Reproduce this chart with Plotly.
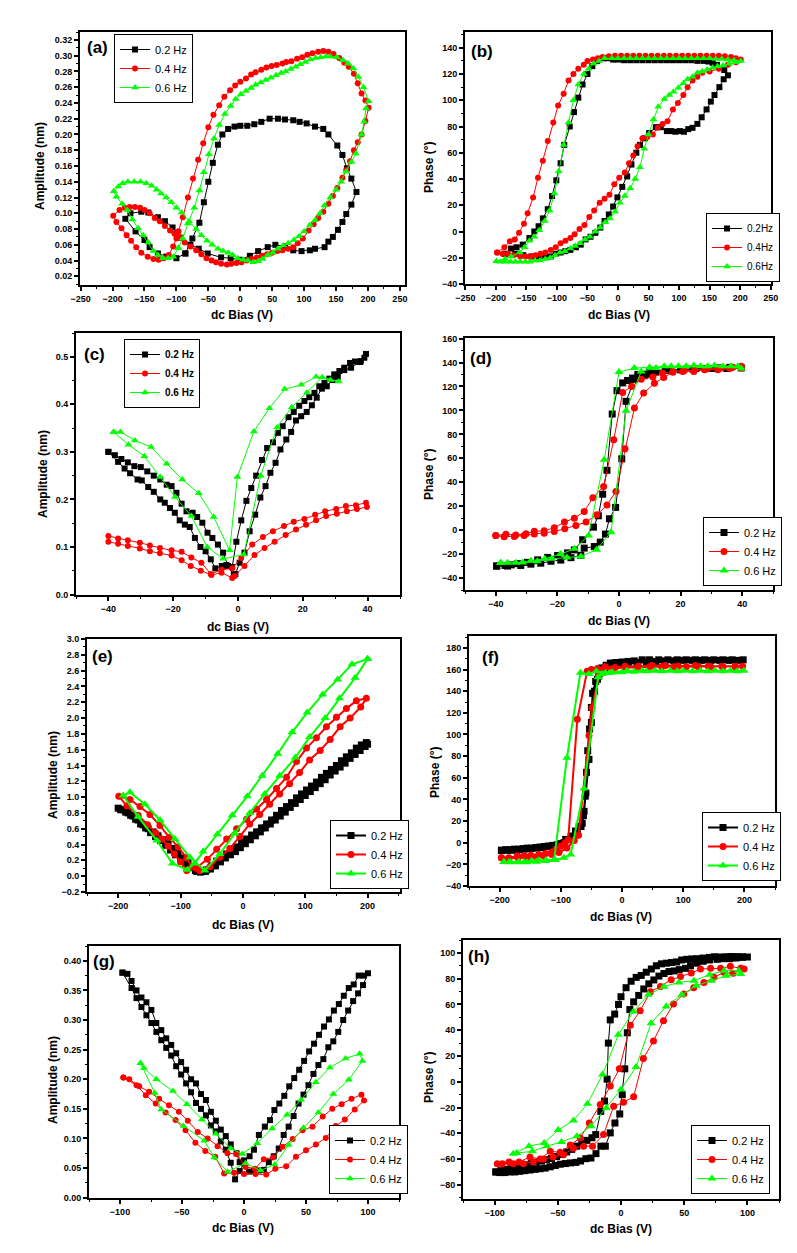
import plotly.graph_objects as go

# ---------------- (a) amplitude, +/-200 V ----------------
a02_x = [-86, -75, -64, -57, -50, -43, -35, -28, -19, -9, 0, 11, 22, 33, 46, 59, 70, 83, 93, 104,
         117, 130, 138, 152, 160, 167, 174, 182, 174, 166, 160, 153, 145, 138, 132, 117, 109, 96, 83, 70,
         55, 43, 28, 15, 0, -15, -30, -51, -65, -78, -93, -106, -118, -129, -144, -155, -172, -180, -164, -150,
         -142, -129, -116, -100, -86]
a02_y = [0.049, 0.068, 0.088, 0.114, 0.140, 0.164, 0.187, 0.200, 0.207, 0.210, 0.211, 0.211, 0.213, 0.216, 0.220, 0.220, 0.219, 0.218, 0.216, 0.214,
         0.210, 0.207, 0.200, 0.186, 0.174, 0.157, 0.144, 0.127, 0.111, 0.099, 0.089, 0.079, 0.070, 0.064, 0.057, 0.055, 0.053, 0.052, 0.053, 0.058,
         0.060, 0.057, 0.052, 0.046, 0.041, 0.043, 0.044, 0.049, 0.055, 0.060, 0.069, 0.082, 0.090, 0.095, 0.101, 0.102, 0.100, 0.093, 0.077, 0.066,
         0.057, 0.049, 0.045, 0.043, 0.049]
a04_x = [-97, -90, -82, -74, -66, -58, -50, -42, -33, -25, -16, -8, 0, 9, 17, 24, 33, 41, 49, 57,
         66, 72, 80, 89, 97, 105, 113, 122, 130, 138, 146, 155, 163, 170, 178, 184, 190, 196, 201, 196,
         190, 184, 178, 172, 166, 160, 152, 145, 138, 130, 122, 115, 107, 98, 90, 83, 75, 66, 58, 50,
         42, 34, 26, 18, 10, 2, -6, -14, -21, -30, -38, -45, -53, -61, -69, -78, -87, -95, -103, -110,
         -118, -126, -134, -142, -150, -157, -165, -173, -181, -189, -199, -194, -186, -178, -171, -163, -155, -145, -136, -128,
         -120, -112, -105, -100, -97]
a04_y = [0.077, 0.095, 0.120, 0.144, 0.168, 0.189, 0.209, 0.225, 0.237, 0.248, 0.256, 0.262, 0.267, 0.271, 0.276, 0.279, 0.282, 0.285, 0.287, 0.288,
         0.290, 0.292, 0.293, 0.296, 0.298, 0.301, 0.303, 0.305, 0.306, 0.305, 0.302, 0.297, 0.291, 0.286, 0.277, 0.265, 0.252, 0.243, 0.234, 0.217,
         0.200, 0.190, 0.180, 0.166, 0.155, 0.145, 0.132, 0.122, 0.112, 0.102, 0.094, 0.086, 0.078, 0.068, 0.062, 0.057, 0.055, 0.053, 0.052, 0.050,
         0.048, 0.046, 0.044, 0.042, 0.040, 0.038, 0.037, 0.036, 0.035, 0.036, 0.038, 0.040, 0.043, 0.048, 0.053, 0.058, 0.063, 0.070, 0.074, 0.078,
         0.084, 0.090, 0.094, 0.100, 0.104, 0.107, 0.108, 0.108, 0.107, 0.104, 0.097, 0.089, 0.081, 0.072, 0.065, 0.057, 0.050, 0.045, 0.042, 0.041,
         0.043, 0.047, 0.058, 0.068, 0.077]
a06_x = [-97, -90, -82, -72, -64, -57, -49, -41, -33, -24, -15, -7, 1, 9, 17, 24, 32, 40, 48, 56,
         64, 71, 79, 87, 94, 102, 110, 118, 126, 134, 141, 151, 161, 169, 177, 185, 193, 201, 197, 194,
         190, 181, 174, 166, 158, 150, 141, 132, 125, 117, 109, 100, 92, 84, 75, 67, 59, 51, 43, 35,
         28, 20, 12, 4, -4, -12, -19, -27, -35, -44, -52, -61, -69, -80, -92, -100, -108, -116, -124, -131,
         -139, -147, -156, -166, -176, -184, -191, -198, -194, -185, -177, -169, -160, -152, -144, -136, -129, -121, -113, -105,
         -97]
a06_y = [0.056, 0.068, 0.087, 0.107, 0.129, 0.152, 0.175, 0.195, 0.212, 0.226, 0.236, 0.245, 0.251, 0.255, 0.259, 0.263, 0.266, 0.269, 0.272, 0.275,
         0.278, 0.280, 0.283, 0.286, 0.289, 0.292, 0.295, 0.297, 0.298, 0.299, 0.299, 0.298, 0.294, 0.290, 0.284, 0.273, 0.260, 0.242, 0.233, 0.216,
         0.200, 0.176, 0.165, 0.153, 0.140, 0.130, 0.120, 0.110, 0.100, 0.091, 0.085, 0.077, 0.071, 0.066, 0.062, 0.059, 0.055, 0.050, 0.047, 0.042,
         0.039, 0.038, 0.040, 0.041, 0.043, 0.047, 0.050, 0.052, 0.055, 0.060, 0.065, 0.072, 0.080, 0.090, 0.101, 0.107, 0.114, 0.120, 0.125, 0.130,
         0.135, 0.138, 0.140, 0.140, 0.140, 0.138, 0.134, 0.128, 0.121, 0.112, 0.104, 0.092, 0.081, 0.072, 0.063, 0.052, 0.047, 0.043, 0.043, 0.045,
         0.056]

# ---------------- (b) phase, +/-200 V ----------------
b02_x = [-185, -175, -166, -156, -145, -137, -130, -123, -115, -108, -101, -94, -88, -79, -72, -65, -58, -50, -42, -34,
         -25, -17, -8, 0, 10, 20, 30, 40, 50, 60, 70, 80, 90, 100, 110, 120, 130, 140, 148, 155,
         162, 174, 180, 173, 166, 158, 152, 145, 137, 130, 122, 115, 108, 101, 94, 87, 80, 70, 62, 51,
         44, 36, 30, 22, 15, 7, -1, -8, -15, -22, -29, -37, -45, -53, -61, -69, -78, -86, -94, -102,
         -110, -119, -130, -142, -155, -168, -185]
b02_y = [-17, -13, -12, -10, -5, 0, 4, 10, 17, 27, 39, 52, 66, 80, 91, 102, 112, 120, 126, 130,
         132, 132, 131, 131, 130.5, 130.5, 130.5, 130.5, 130.5, 130.5, 130.5, 130.5, 130.5, 130.5, 130.5, 130.5, 130, 130, 129.5, 128.5,
         127, 123, 119, 116, 110, 104, 99, 93, 87, 82, 79, 78, 76, 76.5, 76, 76.5, 76.5, 79.5, 79.5, 75,
         71, 66, 60, 51, 42, 34, 26, 19, 13, 8, 3, -1, -4, -6, -10, -12, -14, -15, -16, -17,
         -19, -19, -19, -19, -18, -17, -17]
b04_x = [-198, -186, -177, -169, -162, -154, -148, -139, -131, -123, -115, -106, -98, -89, -81, -73, -65, -56, -50, -41,
         -33, -25, -15, -5, 5, 15, 25, 35, 45, 55, 65, 75, 85, 95, 105, 115, 125, 135, 145, 155,
         165, 175, 185, 193, 201, 193, 180, 165, 150, 138, 130, 122, 114, 107, 98, 90, 81, 73, 65, 57,
         48, 40, 32, 25, 18, 11, 2, -6, -14, -22, -30, -39, -47, -55, -63, -71, -78, -86, -94, -102,
         -110, -119, -127, -135, -143, -151, -160, -171, -180, -189, -198]
b04_y = [-16, -12, -7.5, -6, -1, 6, 14, 26, 41, 54, 69, 83, 96, 105, 115, 120, 124, 127, 130, 131,
         132, 133, 133.5, 134, 134, 134, 134, 134, 134, 134, 134, 134, 134, 134, 134, 134, 134, 134, 134, 134,
         134, 133.5, 133, 132, 131, 129, 127, 124, 122, 121, 118, 115, 110, 104, 98, 93, 84, 82, 79, 74,
         72, 71, 65, 58, 52, 45, 41, 36, 28, 25, 22, 16, 11, 5, 2, -2, -5, -7, -9, -12,
         -14, -16, -17, -18, -19, -19, -19, -18, -17, -17, -16]
b06_x = [-199, -185, -175, -161, -153, -145, -137, -129, -120, -112, -104, -97, -89, -81, -73, -65, -56, -48, -40, -31,
         -22, -10, 0, 10, 20, 30, 40, 50, 60, 70, 80, 90, 100, 110, 120, 130, 140, 150, 160, 170,
         180, 190, 201, 193, 182, 172, 163, 155, 146, 138, 130, 122, 114, 107, 99, 91, 84, 76, 66, 58,
         50, 43, 36, 28, 20, 11, 3, -5, -13, -21, -29, -37, -46, -54, -62, -70, -78, -87, -95, -103,
         -111, -119, -128, -136, -144, -152, -160, -168, -176, -185, -193, -199]
b06_y = [-22.6, -21, -19, -16, -12, -7, -4, 1, 8, 16, 29, 46, 66, 83, 100, 112, 120, 124, 128, 130,
         132, 132, 132, 132, 132, 132, 132, 132, 132, 132, 132, 132, 132, 132, 132, 132, 132, 132, 131.5, 131.5,
         131, 130.5, 130, 129, 127.8, 126.5, 126, 124.7, 123.5, 122, 121, 118, 116, 113, 109.5, 106.5, 104, 101, 95, 85.3,
         74, 63, 49, 40, 33, 27, 22, 15, 10, 7, 3, 0, -4, -6, -9, -11, -13, -15, -16, -18,
         -20, -21, -22, -22, -23, -23, -23, -23, -23, -23, -23, -22.6]

# ---------------- (c) amplitude, +/-40 V ----------------
c02_x = [-40, -38, -36, -34, -32, -30, -28, -26, -24, -22, -20.5, -19, -17.4, -15.9, -14, -12.6, -11, -9.4, -7.9, -6.2,
         -4.6, -3.1, -1.8, -0.5, 1, 2.6, 4.1, 5.6, 7.4, 9, 10.8, 12.3, 13.8, 15.6, 17.2, 18.9, 20.5, 22, 23.6, 25.1,
         26.7, 28.2, 29.7, 31.3, 32.8, 34.6, 36.1, 37.7, 39, 39.5, 37.9, 34.9, 32.8, 30.8, 29.2, 27.4, 25.9, 24.3, 22.8, 21.2,
         19.5, 17.9, 16.4, 14.9, 13.1, 11.6, 10, 8.5, 6.9, 5.3, 3.6, 2, 0.5, -0.8, -1.3, -3.6, -5, -7, -8.4, -10,
         -11.6, -13.3, -14.9, -16.4, -18, -19.5, -21, -22.6, -24, -26, -27.7, -29.7, -31, -33.3, -35, -37, -40]
c02_y = [0.300, 0.293, 0.285, 0.278, 0.270, 0.268, 0.259, 0.250, 0.242, 0.231, 0.228, 0.214, 0.191, 0.175, 0.172, 0.163, 0.151, 0.130, 0.119, 0.105,
         0.088, 0.060, 0.058, 0.111, 0.156, 0.197, 0.224, 0.250, 0.283, 0.308, 0.320, 0.340, 0.354, 0.373, 0.384, 0.397, 0.407, 0.415, 0.424, 0.438,
         0.445, 0.454, 0.463, 0.470, 0.477, 0.487, 0.490, 0.489, 0.498, 0.506, 0.491, 0.477, 0.472, 0.458, 0.451, 0.438, 0.433, 0.414, 0.398, 0.384,
         0.375, 0.366, 0.342, 0.326, 0.305, 0.277, 0.256, 0.228, 0.204, 0.168, 0.133, 0.088, 0.067, 0.043, 0.042, 0.062, 0.060, 0.055, 0.074, 0.091,
         0.100, 0.119, 0.142, 0.147, 0.156, 0.172, 0.182, 0.193, 0.200, 0.216, 0.226, 0.240, 0.242, 0.255, 0.265, 0.279, 0.300]
c04_x = [-40, -37, -34, -30.3, -27.2, -24.1, -20.5, -17.4, -14.4, -11.3, -8.4, -5.1, -1.8, 1, 4.4, 7.7, 10.8, 14.2, 17.2, 20.5,
         23.8, 26.9, 30.3, 33.3, 36.4, 39.5, 39.8, 36.7, 33.6, 30.5, 27.2, 24.1, 21.0, 17.9, 14.7, 11.3, 8.2, 5.1, 2, -1,
         -1.8, -5.1, -8.2, -11.5, -14.6, -17.4, -20.5, -24.1, -27.2, -30.3, -34, -37, -40]
c04_y = [0.123, 0.118, 0.114, 0.109, 0.103, 0.098, 0.093, 0.090, 0.078, 0.067, 0.043, 0.052, 0.055, 0.077, 0.105, 0.121, 0.133, 0.144, 0.153, 0.159,
         0.168, 0.175, 0.180, 0.186, 0.188, 0.193, 0.184, 0.180, 0.175, 0.170, 0.165, 0.156, 0.147, 0.137, 0.125, 0.111, 0.098, 0.083, 0.060, 0.039,
         0.035, 0.046, 0.041, 0.050, 0.060, 0.072, 0.082, 0.087, 0.091, 0.097, 0.102, 0.107, 0.111]
c06_x = [-38.4, -33.8, -28.9, -24, -19.4, -14.4, -9.5, -4.6, 1.8, 7, 12.1, 16.6, 21.3, 26, 31.1, 28.5, 24.1, 19.5, 14.4, 9.7,
         4.9, -0.2, -2.6, -7.5, -12.1, -17.2, -22, -26.8, -31.8, -36.3, -38.4]
c06_y = [0.342, 0.315, 0.291, 0.247, 0.205, 0.165, 0.100, 0.075, 0.084, 0.250, 0.352, 0.394, 0.425, 0.457, 0.448, 0.451, 0.458, 0.441, 0.432, 0.392,
         0.343, 0.247, 0.093, 0.163, 0.213, 0.242, 0.275, 0.310, 0.324, 0.342, 0.342]

# ---------------- (d) phase, +/-40 V ----------------
d02_x = [-39.7, -37, -35, -33, -29.7, -26.4, -23.2, -19.9, -16.7, -14.5, -11.8, -8.3, -6.7, -5.3, -3.9, -2.2, -0.65, 1.2, 2.8, 4.4,
         6.1, 8.2, 9.9, 11.5, 15, 20, 25, 30, 35, 39.7, 36, 32, 28, 24, 20, 16, 12, 9, 5, 2.3,
         0.9, -1.1, -3.1, -4.4, -6.1, -8, -11.3, -12.4, -15.6, -18.9, -22.1, -25.4, -28.6, -31.9, -36.2, -39.7]
d02_y = [-30, -29.5, -29, -28, -26.9, -24.8, -22.8, -21.2, -19, -16.5, -8, 2.5, 12, 30, 50, 97, 116.5, 123, 125, 127,
         130, 129, 132, 133, 134, 134, 135, 135, 135, 135.5, 136, 135.5, 135, 134.5, 134, 133.5, 132, 130, 126, 107.6,
         59.6, 19, 9.5, -3.3, -10, -13.7, -15, -21, -23, -25, -26, -27.6, -28.4, -29.5, -30, -30]
d04_x = [-40, -36.7, -33.5, -30.2, -27.5, -24.3, -21, -17.7, -14.5, -11.3, -8.5, -5, -1.7, 1.2, 4.1, 7.2, 11, 14.2, 17.5, 21.2,
         24.5, 28.8, 33.2, 37, 39.7, 39.7, 35.9, 32.1, 27.8, 24.3, 20.7, 17.5, 14.5, 11.5, 8, 5, 1.95, -1, -3.9, -7.2,
         -10.7, -14, -17.6, -21, -24.3, -27.5, -30.8, -34, -37.3, -40]
d04_y = [-4.5, -3.5, -4, -3, -1, -0.5, 2, 6.7, 10, 15.6, 27, 36.5, 75.5, 115, 120, 126, 128, 131, 132.6, 133.4,
         134, 135, 135.4, 136, 136.8, 135.4, 135, 134, 134, 132.6, 132.6, 131.8, 127.6, 122.6, 114.5, 102, 68, 32.3, 21, 12.8,
         6.7, 3.9, 1.1, -1.1, -2.5, -3.3, -4.5, -5.3, -5.6, -4.5]
d06_x = [-38.4, -33.5, -28.6, -24.1, -19, -14.5, -9.9, -4.8, 0, 5, 9.9, 14.7, 19.3, 24.3, 28.8, 33.7, 38.6, 39.7, 36.4, 31,
         26.5, 21.8, 16.9, 12, 7.2, 2.3, -2.6, -7.3, -12.4, -16.9, -21.9, -26.5, -31.3, -36.2, -38.4]
d06_y = [-27.3, -27.3, -25.6, -24, -20, -15.6, -4.5, 58.8, 132, 135.4, 136, 136.8, 136.8, 137.6, 136.8, 136.8, 136.8, 135, 136.8, 137.6,
         136.8, 136.8, 136.8, 135.4, 132.6, 99.7, -1.7, -16.4, -22, -22.8, -24, -26, -27, -27.3, -27.3]

# ---------------- (e) amplitude, +/-200 V ----------------
e02_x = [198, 190, 182, 174, 166, 158, 150, 142, 134, 126, 118, 110, 102, 94, 86, 78, 70, 62, 54, 46,
         38, 30, 22, 14, 6, -2, -10, -18, -26, -34, -42, -50, -58, -66, -74, -80, -88, -96, -104, -112,
         -120, -128, -136, -144, -152, -160, -168, -176, -184, -192, -200, -196, -188, -180, -172, -164, -156, -148, -140, -132,
         -124, -116, -108, -100, -92, -84, -76, -68, -60, -52, -44, -36, -28, -20, -12, -4, 4, 12, 20, 28,
         36, 44, 52, 60, 68, 76, 84, 92, 100, 108, 116, 124, 132, 140, 148, 156, 164, 172, 180, 188,
         196, 200]
e02_y = [1.69, 1.66, 1.62, 1.56, 1.51, 1.46, 1.40, 1.35, 1.30, 1.25, 1.19, 1.14, 1.09, 1.04, 0.99, 0.93, 0.88, 0.83, 0.77, 0.71,
         0.66, 0.61, 0.56, 0.52, 0.47, 0.43, 0.37, 0.32, 0.28, 0.24, 0.19, 0.13, 0.08, 0.06, 0.06, 0.12, 0.17, 0.23, 0.29, 0.35,
         0.41, 0.46, 0.51, 0.56, 0.60, 0.65, 0.71, 0.76, 0.80, 0.84, 0.86, 0.84, 0.81, 0.77, 0.72, 0.66, 0.61, 0.55, 0.50, 0.45,
         0.39, 0.33, 0.27, 0.22, 0.16, 0.11, 0.07, 0.05, 0.06, 0.09, 0.13, 0.18, 0.23, 0.27, 0.31, 0.36, 0.41, 0.46, 0.51, 0.56,
         0.61, 0.66, 0.71, 0.76, 0.81, 0.87, 0.92, 0.97, 1.02, 1.07, 1.12, 1.17, 1.22, 1.28, 1.33, 1.38, 1.43, 1.49, 1.54, 1.59,
         1.64, 1.67]
e04_x = [-69, -53, -37, -21, -5, 11, 27, 43, 59, 75, 91, 107, 124, 140, 156, 172, 189, 198, 182, 166,
         150, 134, 118, 102, 86, 70, 54, 38, 22, 6, -10, -26, -42, -57, -75, -90, -100, -110, -120, -130,
         -140, -153, -168, -186, -199, -181, -165, -149, -133, -118, -104, -90, -82, -69]
e04_y = [0.07, 0.12, 0.24, 0.35, 0.50, 0.66, 0.78, 0.91, 1.04, 1.17, 1.31, 1.47, 1.59, 1.73, 1.89, 2.00, 2.14, 2.25, 2.22, 2.12,
         2.01, 1.89, 1.75, 1.62, 1.45, 1.25, 1.11, 0.97, 0.85, 0.72, 0.60, 0.47, 0.34, 0.215, 0.10, 0.07, 0.18, 0.28, 0.38, 0.47,
         0.55, 0.65, 0.77, 0.89, 1.01, 0.97, 0.88, 0.78, 0.64, 0.49, 0.37, 0.23, 0.12, 0.07]
e06_x = [200, 175, 152, 128, 103, 79, 56, 31, 7, -17, -41, -64, -78, -89, -113, -138, -168, -192, -181, -157,
         -133, -109, -85, -61, -37, -13, 11, 35, 59, 84, 107, 132, 155, 180, 200]
e06_y = [2.75, 2.68, 2.49, 2.30, 2.07, 1.82, 1.55, 1.27, 1.01, 0.77, 0.53, 0.31, 0.16, 0.08, 0.16, 0.45, 0.75, 1.02, 1.06, 0.91,
         0.71, 0.47, 0.24, 0.07, 0.28, 0.54, 0.80, 1.04, 1.27, 1.50, 1.76, 2.00, 2.25, 2.51, 2.75]

# ---------------- (f) phase, +/-200 V ----------------
f02_x = [-197, -190, -183, -176, -169, -162, -155, -148, -141, -134, -127, -120, -113, -106, -100, -95, -88, -83, -76, -70,
         -65, -62, -59, -54, -50, -48, -43, -38, -33, -26, -19, -10, 0, 10, 20, 33, 45, 60, 75, 90,
         105, 120, 135, 150, 165, 180, 198, 190, 175, 160, 145, 130, 115, 100, 85, 70, 55, 40, 25, 10,
         0, -10, -20, -28, -35, -40, -45, -50, -53, -56, -58, -60, -63, -67, -73, -82, -92, -102, -110, -120,
         -130, -140, -150, -160, -170, -180, -190, -197]
f02_y = [-7, -6.5, -6.5, -6, -6, -5.5, -5, -5, -4.5, -4, -3.5, -3, -2.5, -2, -1, 0, 3, 6, 10.8, 15,
         18, 29, 46, 77, 111, 138, 149, 154, 161.5, 164, 166, 166.5, 167, 167.5, 168, 169, 169, 169, 169, 169,
         169, 169, 169, 169, 169, 169, 169, 168.5, 168.5, 168.5, 168.5, 168.5, 168.5, 168.5, 168, 168, 167.5, 167, 166.5, 166,
         165.5, 165, 163, 161, 157, 151, 140, 125, 105, 85, 65, 43, 25, 15, 9, 6, 3, -1, -2.5, -3.5,
         -4.5, -5, -5.5, -6, -6.5, -7, -7, -7]
f04_x = [-197, -185, -171, -160, -149, -136, -125, -115, -108, -100, -93, -88, -73, -57, -50, -40, -27, -11, 5, 27,
         49, 71, 92, 120, 141, 163, 185, 197, 185, 165, 145, 125, 105, 85, 65, 45, 25, 5, -15, -30,
         -38, -49, -54, -71, -78, -90, -103, -115, -128, -140, -155, -170, -185, -197]
f04_y = [-14, -14, -12, -12, -11.5, -11, -10, -8.6, -6, -3, 0, 2.5, 114, 158.5, 160, 161, 162.5, 162, 163, 163,
         163.7, 163.7, 163, 163.7, 163, 163, 163, 163, 162.5, 162.5, 162.5, 162.5, 162.5, 162.5, 162.5, 162.5, 162, 162, 161, 160,
         154, 124.6, 99, 6.8, 2, -5, -9, -11, -12, -13, -13.5, -14, -14.5, -14]
f06_x = [-193, -182, -168, -160, -148, -136, -124, -111, -90, -68, -54, -42, -27, -16, 8, 33, 54, 79, 100, 128,
         152, 177, 199, 188, 165, 140, 115, 90, 65, 40, 20, 0, -20, -32, -39, -62, -84, -95, -109, -125,
         -140, -155, -170, -185, -193]
f06_y = [-17.8, -17.8, -17.8, -17.8, -17, -16.3, -16, -16, 78.5, 157, 156, 158.5, 157, 157.5, 159, 159, 159, 159, 159, 159,
         159, 159, 159, 158.5, 158.5, 158.5, 158.5, 158.5, 158.5, 158.5, 158, 157.5, 157, 156, 153, 50, -11, -14, -16, -17,
         -17.5, -18, -18, -18, -17.8]

# ---------------- (g) amplitude, +/-100 V ----------------
g02_x = [-98, -94, -90.7, -86.7, -82.7, -78.7, -74.7, -70.7, -66.7, -62.7, -58.7, -54.7, -50.7, -46.7, -42.7, -38.7, -34.7, -30.7, -26.7, -22.7,
         -18.7, -14.7, -10.7, -6, -3.5, 0, 4.5, 8, 12, 16.8, 21, 24.5, 28.5, 32.5, 36.5, 40.5, 44.5, 48.5, 52.5, 56.5,
         60.5, 64.5, 68.5, 72.5, 76.5, 80.5, 84.5, 88.5, 92.5, 96.5, 100, 96, 92, 88, 84, 80, 76, 72, 68, 64,
         60, 56, 52, 48, 44, 40, 36, 32, 28, 24, 20, 16, 12, 8, 4, 0, -3.5, -7.2, -10.7, -14.7,
         -18.7, -22.7, -26.7, -30.7, -34.7, -38.7, -42.7, -46.7, -50.7, -54.7, -58.7, -62.7, -66.7, -70.7, -74.7, -78.7, -82.7, -86.7, -90.7, -98]
g02_y = [0.380, 0.378, 0.366, 0.350, 0.338, 0.330, 0.317, 0.295, 0.283, 0.269, 0.258, 0.244, 0.229, 0.216, 0.200, 0.193, 0.175, 0.165, 0.145, 0.130,
         0.115, 0.104, 0.090, 0.075, 0.060, 0.063, 0.070, 0.081, 0.106, 0.120, 0.131, 0.148, 0.159, 0.172, 0.188, 0.202, 0.216, 0.231, 0.247, 0.260,
         0.275, 0.289, 0.301, 0.316, 0.327, 0.341, 0.354, 0.360, 0.375, 0.375, 0.379, 0.359, 0.345, 0.332, 0.316, 0.300, 0.280, 0.264, 0.254, 0.234,
         0.224, 0.209, 0.190, 0.174, 0.159, 0.138, 0.120, 0.106, 0.083, 0.070, 0.060, 0.047, 0.046, 0.045, 0.044, 0.058, 0.045, 0.031, 0.059, 0.081,
         0.095, 0.112, 0.122, 0.139, 0.150, 0.160, 0.178, 0.193, 0.208, 0.222, 0.240, 0.253, 0.266, 0.280, 0.295, 0.308, 0.322, 0.337, 0.354, 0.380]
g04_x = [-97.3, -92.5, -84.5, -76.5, -68.5, -60.5, -52.5, -45.3, -37.3, -29.3, -21.3, -13.3, -6, 1.3, 8.8, 16, 23.5, 31.2, 39.2, 47.2,
         55.2, 63.5, 71.2, 78.7, 86.7, 94.7, 96.8, 89.3, 81.3, 74, 66, 58, 50, 41.9, 34, 25.3, 17.9, 9.3, 0, -8,
         -16, -23.2, -31.2, -39.2, -47.2, -55.2, -63.2, -71.2, -79.2, -86.7, -97.3]
g04_y = [0.203, 0.200, 0.188, 0.179, 0.167, 0.156, 0.145, 0.130, 0.111, 0.100, 0.087, 0.075, 0.074, 0.052, 0.049, 0.065, 0.068, 0.086, 0.099, 0.114,
         0.120, 0.137, 0.150, 0.158, 0.167, 0.174, 0.164, 0.149, 0.132, 0.121, 0.101, 0.090, 0.080, 0.069, 0.053, 0.049, 0.039, 0.040, 0.040, 0.042,
         0.041, 0.069, 0.079, 0.093, 0.114, 0.131, 0.144, 0.159, 0.173, 0.190, 0.203]
g06_x = [-83.5, -80.8, -70.7, -57.3, -46, -34, -22.7, -10.7, -1.3, 10.7, 22.7, 34.7, 46, 57.9, 69.3, 81.9, 93.3, 95.5, 84.5, 72,
         60, 48, 36, 24.8, 13.3, 1.3, -13.3, -24, -32, -48.8, -66.7, -72, -83.5]
g06_y = [0.227, 0.219, 0.200, 0.180, 0.158, 0.132, 0.108, 0.083, 0.074, 0.092, 0.117, 0.140, 0.165, 0.195, 0.220, 0.235, 0.243, 0.231, 0.199, 0.175,
         0.144, 0.118, 0.089, 0.056, 0.046, 0.058, 0.044, 0.068, 0.096, 0.121, 0.149, 0.177, 0.227]

# ---------------- (h) phase, +/-100 V ----------------
h02_x = [-99, -95, -91, -87, -83, -79, -75, -71, -67, -63, -59, -55, -51, -47, -43, -39, -35, -31, -27, -23,
         -20, -16, -13, -11, -10, -8.5, -5, -2, 0, 4, 8, 12, 16, 20, 24, 28, 32, 36, 40, 44,
         48, 52, 56, 60, 65, 70, 74, 78, 83, 87, 92, 96, 100, 96, 91, 86, 81, 76, 70, 65,
         60, 55, 51, 46, 42, 38, 34, 30, 26, 22, 18, 14, 10, 7, 5, 3, 1, -1, -4.8, -8.5,
         -12.4, -15.9, -19.8, -23.8, -27.8, -32, -35.7, -40, -44, -48, -52, -56, -60, -64, -68, -72, -76, -80, -84, -88,
         -92, -96, -99]
h02_y = [-70, -69, -68, -67.5, -66.5, -65.5, -64.5, -63.5, -62.5, -61.5, -60.5, -59.5, -58, -56.5, -54.5, -52.5, -50, -48, -45.5, -43.5,
         -41, -23, -15, 2, 30, 48, 52.5, 60, 66, 73, 78, 81, 82.5, 85, 87.5, 90, 91.5, 92, 92.5, 93,
         94.5, 95, 95.3, 95.5, 96, 96.5, 97, 96.8, 97, 97.2, 97.1, 97, 96.8, 96.5, 96, 95.5, 95.5, 95, 94.5, 93.5,
         92, 90, 88, 87, 86, 85.5, 84, 82, 79, 76, 72, 67, 62, 56, 38, 10, -10, -25, -32, -39.7,
         -50, -50, -55.8, -59.2, -59.7, -61.5, -62.6, -63, -63.5, -64, -65, -66, -67, -67.5, -68, -68.5, -69, -69.5, -70, -70,
         -70.5, -70.5, -70]
h04_x = [-97.9, -88.6, -80.7, -72, -64, -56, -48.1, -40.2, -32.3, -25.1, -16.4, -8.5, -1.3, 7.4, 15.1, 23.3, 31.2, 39.7, 47.1, 55.6,
         62.9, 70.9, 78.8, 86.5, 94.7, 97.4, 88.6, 81.5, 73.5, 65.6, 57.5, 49.7, 41.5, 33.6, 25.7, 17.7, 10, 2, -5.8, -13.8,
         -22.5, -29.6, -37.6, -45.5, -53.7, -61.4, -69.3, -77.2, -85.2, -93.9]
h04_y = [-63.6, -62.3, -62.3, -58.4, -60, -54, -54.8, -49, -43.6, -32, -17.7, -3.4, 10, 43.9, 55, 69.9, 74, 79.2, 81.6, 84.4,
         87.5, 88, 88, 89.6, 88, 87.5, 84.1, 84.9, 81, 77, 73, 68.1, 60.3, 47.3, 31.7, 18, -11.7, -16, -19, -41,
         -50, -50, -51.6, -56.6, -58.4, -60, -62.3, -63.6, -63.6, -63.6]
h06_x = [-85.2, -72.8, -60.8, -49.7, -37.6, -26.5, -14.6, -2.1, 9.8, 21.7, 33.9, 45.8, 57.7, 70.1, 81.7, 93.1, 94.7, 83.3, 71.4, 59.5,
         48.1, 35.7, 23.8, 11.9, 0, -11.6, -23.8, -34.9, -47.1, -58.7, -70.1, -82.5]
h06_y = [-55.8, -50, -47.5, -37.5, -30, -17, 5.7, 36.4, 54.5, 67.5, 73.8, 77.1, 78.4, 83.1, 86.2, 86.2, 83.6, 82.3, 78.4, 74.5,
         67.5, 58.4, 45.4, 11.4, -6, -20.3, -34.5, -42.3, -46.7, -50, -54, -55.3]

names_spaced = ['0.2 Hz', '0.4 Hz', '0.6 Hz']
names_tight = ['0.2Hz', '0.4Hz', '0.6Hz']

W, H = 797, 1253
BLACK, RED, GREEN = '#000000', '#ff0000', '#00ff00'
FONT = 'Arial'


def fx(p):
    return p / W


def fy(p):
    return 1 - p / H


# panel layout in pixels of the 797x1253 page
panels = [
    dict(label='(a)', box=(72, 397, 24, 277), xr=[-251, 258], yr=[0.009, 0.33], xdt=50, xmn=25, ydt=0.02, ymn=0.01, yfmt='.2f',
         ytitle='Amplitude (nm)', lab=(77, 40), yt=(32, 158), xt=(234, 307),
         leg=(106, 26, 'top'), names=names_spaced, lfs=11, lbold=False,
         data=[(a02_x, a02_y), (a04_x, a04_y), (a06_x, a06_y)], ms=6, lw=1),
    dict(label='(b)', box=(457, 763, 24, 276), xr=[-250.5, 250.5], yr=[-40, 152], xdt=50, xmn=25, ydt=20, ymn=10, yfmt='d',
         ytitle='Phase (°)', lab=(461, 44), yt=(421, 160), xt=(611, 307),
         leg=(698, 274, 'bottom'), names=names_tight, lfs=10, lbold=False,
         data=[(b02_x, b02_y), (b04_x, b04_y), (b06_x, b06_y)], ms=6, lw=1),
    dict(label='(c)', box=(68, 392, 325, 587), xr=[-50, 50], yr=[-0.001, 0.55], xdt=20, xmn=10, ydt=0.1, ymn=0.05, yfmt='.1f',
         ytitle='Amplitude (nm)', lab=(74, 346), yt=(35, 466), xt=(230, 619),
         leg=(116, 331, 'top'), names=names_spaced, lfs=10, lbold=True,
         data=[(c02_x, c02_y), (c04_x, c04_y), (c06_x, c06_y)], ms=6, lw=1),
    dict(label='(d)', box=(457, 765, 330, 582), xr=[-50, 50], yr=[-50, 160.5], xdt=20, xmn=10, ydt=20, ymn=10, yfmt='d',
         ytitle='Phase (°)', lab=(460, 350), yt=(421, 467), xt=(611, 613),
         leg=(695, 578, 'bottom'), names=names_spaced, lfs=11, lbold=False,
         data=[(d02_x, d02_y), (d04_x, d04_y), (d06_x, d06_y)], ms=7, lw=1),
    dict(label='(e)', box=(79, 392, 631, 884), xr=[-250, 252], yr=[-0.201, 3.001], xdt=100, xmn=50, ydt=0.2, ymn=0.1, yfmt='.1f',
         ytitle='Amplitude (nm)', lab=(82, 648), yt=(45, 767), xt=(235, 917),
         leg=(322, 881, 'bottom'), names=names_spaced, lfs=11, lbold=False,
         data=[(e02_x, e02_y), (e04_x, e04_y), (e06_x, e06_y)], ms=7, lw=2),
    dict(label='(f)', box=(461, 767, 628, 878), xr=[-250, 250], yr=[-40, 191], xdt=100, xmn=50, ydt=20, ymn=10, yfmt='d',
         ytitle='Phase (°)', lab=(472, 650), yt=(427, 765), xt=(613, 909),
         leg=(694, 873, 'bottom'), names=names_spaced, lfs=11, lbold=False,
         data=[(f02_x, f02_y), (f04_x, f04_y), (f06_x, f06_y)], ms=7, lw=2),
    dict(label='(g)', box=(81, 391, 938, 1190), xr=[-125, 125], yr=[-0.0005, 0.425], xdt=50, xmn=25, ydt=0.05, ymn=0.025, yfmt='.2f',
         ytitle='Amplitude (nm)', lab=(83, 953), yt=(45, 1072), xt=(235, 1220),
         leg=(321, 1186, 'bottom'), names=names_spaced, lfs=11, lbold=False,
         data=[(g02_x, g02_y), (g04_x, g04_y), (g06_x, g06_y)], ms=6, lw=1),
    dict(label='(h)', box=(455, 771, 932, 1191), xr=[-125, 125], yr=[-91, 110], xdt=50, xmn=25, ydt=20, ymn=10, yfmt='d',
         ytitle='Phase (°)', lab=(458, 949), yt=(421, 1070), xt=(613, 1221),
         leg=(683, 1186, 'bottom'), names=names_spaced, lfs=11, lbold=False,
         data=[(h02_x, h02_y), (h04_x, h04_y), (h06_x, h06_y)], ms=7, lw=1),
]

colors = [BLACK, RED, GREEN]
symbols = ['square', 'circle', 'triangle-up']

fig = go.Figure()
layout = {}
annotations = []

for i, p in enumerate(panels, start=1):
    sfx = '' if i == 1 else str(i)
    legname = 'legend' + sfx
    x0, x1, y0, y1 = p['box']

    for (xs, ys), name, col, sym in zip(p['data'], p['names'], colors, symbols):
        fig.add_trace(go.Scatter(
            x=xs, y=ys, name=name, mode='lines+markers',
            line=dict(color=col, width=p['lw']),
            marker=dict(color=col, symbol=sym, size=p['ms'] + (1 if sym == 'triangle-up' else 0)),
            xaxis='x' + sfx, yaxis='y' + sfx, legend=legname,
            hovertemplate='%{x} V<br>%{y}<extra>' + name + '</extra>'
        ))

    common = dict(showline=True, linecolor='black', linewidth=2, mirror=True,
                  ticks='outside', ticklen=4, tickwidth=1.5, tickcolor='black',
                  showgrid=False, zeroline=False, automargin=False,
                  tickfont=dict(family=FONT, size=9, color='black', weight='bold'))
    layout['xaxis' + sfx] = dict(common, domain=[fx(x0), fx(x1)], range=p['xr'], anchor='y' + sfx,
                                 dtick=p['xdt'], tick0=0,
                                 minor=dict(ticks='outside', ticklen=2, tickwidth=1, tickcolor='black', dtick=p['xmn']))
    layout['yaxis' + sfx] = dict(common, domain=[fy(y1), fy(y0)], range=p['yr'], anchor='x' + sfx,
                                 dtick=p['ydt'], tick0=0, tickformat=p['yfmt'],
                                 minor=dict(ticks='outside', ticklen=2, tickwidth=1, tickcolor='black', dtick=p['ymn']))

    lx, ly, anchor = p['leg']
    layout[legname] = dict(x=fx(lx), y=fy(ly), xanchor='left', yanchor=anchor,
                           bgcolor='white', bordercolor='black', borderwidth=1,
                           font=dict(family=FONT, size=p['lfs'], color='black',
                                     weight='bold' if p['lbold'] else 'normal'),
                           itemwidth=30, tracegroupgap=0)

    annotations.append(dict(text=p['label'], x=fx(p['lab'][0]), y=fy(p['lab'][1]), xref='paper', yref='paper',
                            xanchor='left', yanchor='middle', showarrow=False,
                            font=dict(family=FONT, size=17, color='black', weight='bold')))
    annotations.append(dict(text=p['ytitle'], x=fx(p['yt'][0]), y=fy(p['yt'][1]), xref='paper', yref='paper',
                            xanchor='center', yanchor='middle', showarrow=False, textangle=-90,
                            font=dict(family=FONT, size=12, color='black', weight='bold')))
    annotations.append(dict(text='dc Bias (V)', x=fx(p['xt'][0]), y=fy(p['xt'][1]), xref='paper', yref='paper',
                            xanchor='center', yanchor='middle', showarrow=False,
                            font=dict(family=FONT, size=12, color='black', weight='bold')))

fig.update_layout(
    width=W, height=H,
    margin=dict(l=0, r=0, t=0, b=0),
    paper_bgcolor='white', plot_bgcolor='white',
    showlegend=True,
    annotations=annotations,
    **layout
)

fig.write_html('out.html')
